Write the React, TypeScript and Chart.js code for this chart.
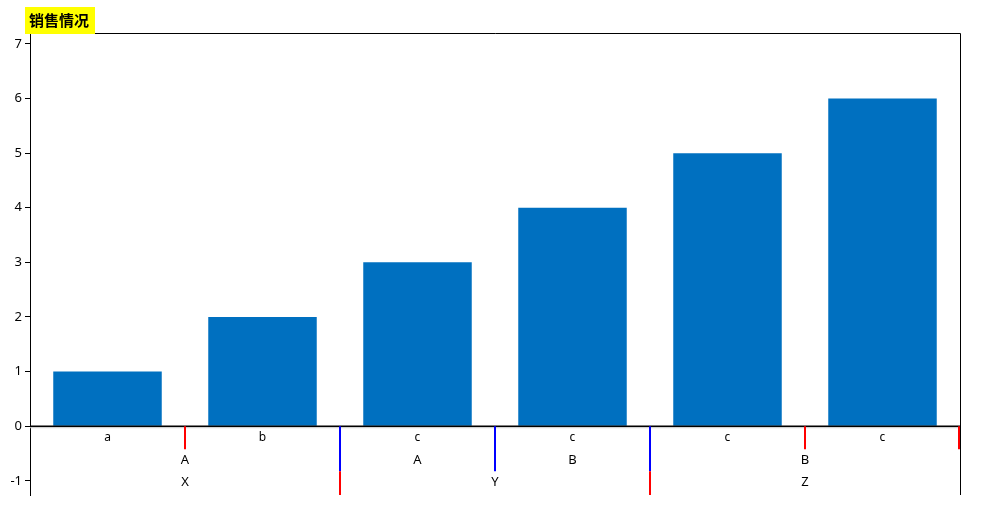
import React, { useEffect, useRef } from 'react';
import { Chart, registerables } from 'chart.js';

Chart.register(...registerables);

// chart data
const categories = ['a', 'b', 'c', 'c', 'c', 'c'];
const values = [1, 2, 3, 4, 5, 6];
const level2Labels = ['A', 'A', 'B', 'B'];
const level2Spans = [2, 1, 1, 2];
const level3Labels = ['X', 'Y', 'Z'];
const level3Spans = [2, 2, 2];
const yTicks = [-1, 0, 1, 2, 3, 4, 5, 6, 7];
const titleText = '销售情况';

const FONT = '"Noto Sans", "Noto Sans CJK SC", sans-serif';

// boundaries (category index where a group ends) for a span list
const bounds = (spans: number[]) => {
  const out: number[] = [];
  let acc = 0;
  spans.forEach((s) => {
    acc += s;
    out.push(acc);
  });
  return out;
};

const multiAxisPlugin = {
  id: 'multiAxis',
  afterDatasetsDraw(chart: any) {
    const { ctx, chartArea, scales } = chart;
    const x = scales.x;
    const y = scales.y;
    const y0 = y.getPixelForValue(0);
    const step = x.getPixelForValue(1) - x.getPixelForValue(0);
    const edge = (i: number) => x.getPixelForValue(0) - step / 2 + i * step;

    ctx.save();

    // zero line
    ctx.strokeStyle = '#c8c8c8';
    ctx.lineWidth = 1;
    ctx.beginPath();
    ctx.moveTo(chartArea.left, y0 + 1.5);
    ctx.lineTo(chartArea.right, y0 + 1.5);
    ctx.stroke();
    ctx.strokeStyle = '#000';
    ctx.lineWidth = 1.5;
    ctx.beginPath();
    ctx.moveTo(chartArea.left, y0);
    ctx.lineTo(chartArea.right, y0);
    ctx.stroke();

    // labels
    ctx.fillStyle = '#000';
    ctx.textAlign = 'center';
    ctx.textBaseline = 'middle';
    ctx.font = `12px ${FONT}`;
    categories.forEach((c, i) => {
      ctx.fillText(c, x.getPixelForValue(i), y0 + 11);
    });
    ctx.font = `13px ${FONT}`;
    let start = 0;
    level2Spans.forEach((s, i) => {
      ctx.fillText(level2Labels[i], (edge(start) + edge(start + s)) / 2, y0 + 34);
      start += s;
    });
    start = 0;
    level3Spans.forEach((s, i) => {
      ctx.fillText(level3Labels[i], (edge(start) + edge(start + s)) / 2, y0 + 56);
      start += s;
    });

    // separators
    const b2 = bounds(level2Spans);
    const b3 = bounds(level3Spans);
    ctx.lineWidth = 2;
    for (let i = 1; i <= categories.length; i++) {
      const last = i === categories.length;
      const px = last ? edge(i) - 1 : edge(i);
      if (!last && b3.includes(i)) {
        ctx.strokeStyle = '#0000ff';
        ctx.beginPath();
        ctx.moveTo(px, y0);
        ctx.lineTo(px, y0 + 45);
        ctx.stroke();
        ctx.strokeStyle = '#ff0000';
        ctx.beginPath();
        ctx.moveTo(px, y0 + 45);
        ctx.lineTo(px, chartArea.bottom);
        ctx.stroke();
      } else if (!last && b2.includes(i)) {
        ctx.strokeStyle = '#0000ff';
        ctx.beginPath();
        ctx.moveTo(px, y0);
        ctx.lineTo(px, y0 + 45);
        ctx.stroke();
      } else {
        ctx.strokeStyle = '#ff0000';
        ctx.beginPath();
        ctx.moveTo(px, y0);
        ctx.lineTo(px, y0 + 23);
        ctx.stroke();
      }
    }

    // frame (top and right)
    ctx.strokeStyle = '#000';
    ctx.lineWidth = 1;
    ctx.beginPath();
    ctx.moveTo(chartArea.left, chartArea.top + 0.5);
    ctx.lineTo(chartArea.right + 0.5, chartArea.top + 0.5);
    ctx.lineTo(chartArea.right + 0.5, chartArea.bottom);
    ctx.stroke();
    ctx.restore();
  },
  afterDraw(chart: any) {
    const { ctx } = chart;
    ctx.save();
    ctx.fillStyle = '#ffff00';
    ctx.fillRect(25, 7, 70, 27);
    ctx.fillStyle = '#000';
    ctx.font = `bold 15px "Noto Sans CJK SC", sans-serif`;
    ctx.textAlign = 'left';
    ctx.textBaseline = 'middle';
    ctx.fillText(titleText, 29, 20);
    ctx.restore();
  },
};

const App: React.FC = () => {
  const chartRef = useRef<HTMLCanvasElement>(null);
  const chartInstance = useRef<Chart | null>(null);

  useEffect(() => {
    document.body.style.margin = '0';
    if (chartInstance.current) {
      chartInstance.current.destroy();
    }
    if (chartRef.current) {
      const ctx = chartRef.current.getContext('2d');
      if (ctx) {
        chartInstance.current = new Chart(ctx, {
          type: 'bar',
          data: {
            labels: categories,
            datasets: [
              {
                label: titleText,
                data: values,
                backgroundColor: '#0070c0',
                barPercentage: 0.7,
                categoryPercentage: 1,
              },
            ],
          },
          options: {
            responsive: true,
            maintainAspectRatio: false,
            animation: false,
            layout: { padding: { top: 33, right: 24, bottom: 25, left: 0 } },
            plugins: {
              legend: { display: false },
              title: { display: false },
              tooltip: { enabled: false },
            },
            scales: {
              x: { display: false },
              y: {
                min: -1.26,
                max: 7.2,
                afterFit: (scale: any) => {
                  scale.width = 30;
                },
                afterBuildTicks: (scale: any) => {
                  scale.ticks = yTicks.map((v) => ({ value: v }));
                },
                grid: {
                  drawOnChartArea: false,
                  drawTicks: true,
                  tickLength: 5,
                  color: '#000',
                },
                border: { color: '#000', width: 1 },
                ticks: {
                  color: '#000',
                  padding: 3,
                  font: { family: FONT, size: 13 },
                },
              },
            },
          },
          plugins: [multiAxisPlugin],
        });
      }
    }
    return () => {
      if (chartInstance.current) {
        chartInstance.current.destroy();
        chartInstance.current = null;
      }
    };
  }, []);

  return (
    <div style={{ position: 'relative', width: 984, height: 520 }}>
      <canvas ref={chartRef}></canvas>
    </div>
  );
};

export default App;
